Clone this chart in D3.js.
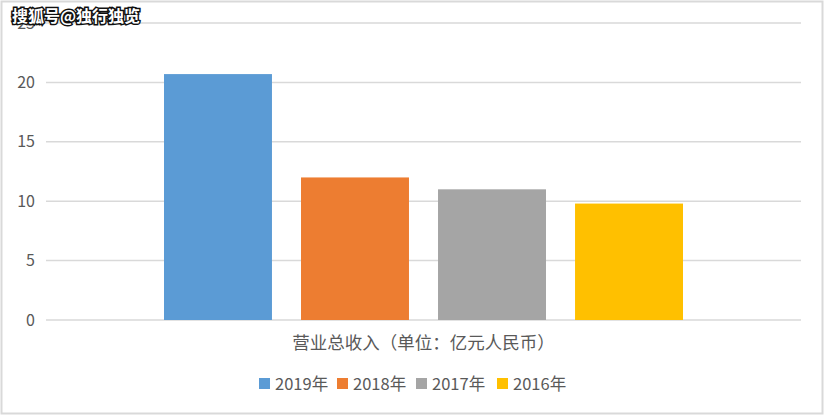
<!DOCTYPE html>
<html lang="zh">
<head>
<meta charset="UTF-8">
<title>营业总收入</title>
<script src="https://cdn.jsdelivr.net/npm/d3@7"></script>
<style>
  body { margin: 0; background: #fff; }
  svg text { font-family: "Noto Sans CJK SC", "Microsoft YaHei", sans-serif; }
</style>
</head>
<body>
<svg id="chart"></svg>
<script>
// data
var category = "营业总收入（单位：亿元人民币）"
var years = ["2019年", "2018年", "2017年", "2016年"]
var revenue = [20.7, 12.0, 11.0, 9.8]
var colors = ["#5b9bd5", "#ed7d31", "#a5a5a5", "#ffc000"]
var yTicks = [0, 5, 10, 15, 20, 25]

var W = 824, H = 415
var svg = d3.select("#chart").attr("width", W).attr("height", H)

svg.append("rect")
    .attr("x", 1.5).attr("y", 1.5)
    .attr("width", W - 3).attr("height", H - 3)
    .attr("fill", "#fff")
    .attr("stroke", "#d9d9d9").attr("stroke-width", 2)

var plotLeft = 46, plotRight = 801, plotTop = 23, plotBottom = 320

var y = d3.scaleLinear().domain([0, 25]).range([plotBottom, plotTop])

// gridlines
svg.append("g")
    .selectAll("line")
    .data(yTicks)
    .join("line")
    .attr("x1", plotLeft).attr("x2", plotRight)
    .attr("y1", d => y(d)).attr("y2", d => y(d))
    .attr("stroke", "#d9d9d9").attr("stroke-width", 1.5)

// y labels
svg.append("g")
    .selectAll("text")
    .data(yTicks)
    .join("text")
    .attr("x", 35).attr("y", d => y(d))
    .attr("dy", "0.35em")
    .attr("text-anchor", "end")
    .attr("fill", "#595959")
    .attr("font-size", 16)
    .text(d => d)

// group band + series band
var x0 = d3.scaleBand().domain([category]).range([plotLeft, plotRight])
var x1 = d3.scaleBand().domain(years)
    .range([x0(category) + 118, x0(category) + x0.bandwidth() - 118])
    .paddingInner(0.212)

svg.append("g")
    .selectAll("rect")
    .data(years)
    .join("rect")
    .attr("x", d => x1(d))
    .attr("width", x1.bandwidth())
    .attr("y", (d, i) => y(revenue[i]))
    .attr("height", (d, i) => plotBottom - y(revenue[i]))
    .attr("fill", (d, i) => colors[i])

// category label
svg.append("text")
    .attr("x", x0(category) + x0.bandwidth() / 2)
    .attr("y", 349)
    .attr("text-anchor", "middle")
    .attr("fill", "#595959")
    .attr("font-size", 17.5)
    .text(category)

// legend
var legendX = [259, 337, 416, 497]
var legend = svg.append("g")
    .selectAll("g")
    .data(years)
    .join("g")
    .attr("transform", (d, i) => "translate(" + legendX[i] + ",378)")
legend.append("rect")
    .attr("width", 11).attr("height", 11)
    .attr("fill", (d, i) => colors[i])
legend.append("text")
    .attr("x", 16).attr("y", 12)
    .attr("fill", "#595959")
    .attr("font-size", 16.5)
    .text(d => d)

// watermark
svg.append("text")
    .attr("x", 12).attr("y", 22)
    .attr("font-size", 16)
    .attr("font-weight", "bold")
    .attr("fill", "#fff")
    .attr("stroke", "#111")
    .attr("stroke-width", 3)
    .attr("paint-order", "stroke")
    .text("搜狐号@独行独览")
</script>
</body>
</html>
